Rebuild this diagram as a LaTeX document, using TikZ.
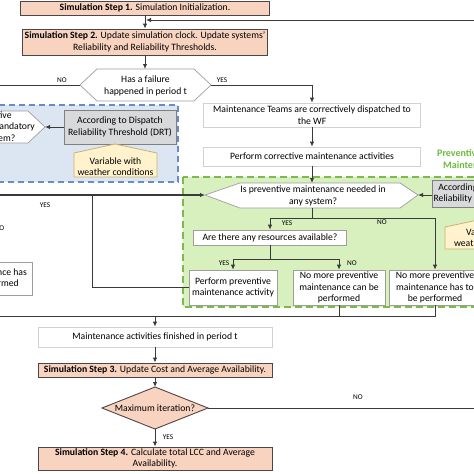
\documentclass[tikz,border=0pt]{standalone}
\usepackage{fontspec}
\setmainfont{Carlito}
\usetikzlibrary{arrows.meta}
\definecolor{peach}{HTML}{F8D3C0}
\definecolor{stepline}{HTML}{4D4545}
\definecolor{grayfill}{HTML}{D7D9DA}
\definecolor{yellowfill}{HTML}{FFF2CC}
\definecolor{yellowline}{HTML}{C8B273}
\definecolor{bluefill}{HTML}{DCE6F3}
\definecolor{blueline}{HTML}{6A8CC0}
\definecolor{greenfill}{HTML}{D8F0BE}
\definecolor{greenline}{HTML}{7DBA4E}
\definecolor{greentext}{HTML}{6DBA3F}
\definecolor{linec}{HTML}{3A3A3A}
\tikzset{
  stepbox/.style={draw=stepline, fill=peach, line width=0.9pt, inner sep=1pt, align=center},
  plainbox/.style={draw=black!18, fill=white, line width=0.7pt, inner sep=1pt, align=center},
  whitebox/.style={draw=black!38, fill=white, line width=0.7pt, inner sep=1pt, align=center},
  graybox/.style={draw=black!50, fill=grayfill, line width=0.8pt, inner sep=1pt, align=center},
  txt/.style={inner sep=0pt, align=center},
  hexshape/.style={draw=black!38, fill=white, line width=0.7pt},
  yshape/.style={draw=yellowline, fill=yellowfill, line width=0.8pt},
  lbl/.style={inner sep=0pt, font=\fontsize{7.3}{8}\selectfont},
  flow/.style={draw=linec, line width=0.9pt},
  arr/.style={flow, -{Latex[length=5pt,width=4.5pt]}},
  blueregion/.style={draw=blueline, fill=bluefill, line width=1.2pt, dash pattern=on 6pt off 4pt},
  greenregion/.style={draw=greenline, fill=greenfill, line width=1.3pt, dash pattern=on 7pt off 4pt},
}
\begin{document}
\begin{tikzpicture}[x=1pt, y=-1pt, font=\fontsize{9.7}{11.5}\selectfont]
\useasboundingbox (0,0) rectangle (474,474);
\clip (0,0) rectangle (474,474);

% ---- top steps
\node[stepbox, minimum width=249pt, minimum height=14pt] (s1) at (145,8) {\textbf{Simulation Step 1.} Simulation Initialization.};
\node[stepbox, minimum width=245pt, minimum height=26pt] (s2) at (145,42) {\textbf{Simulation Step 2.} Update simulation clock. Update systems'\\Reliability and Reliability Thresholds.};
\draw[arr] (s1.south) -- (s2.north);

% ---- failure hexagon
\filldraw[hexshape] (80,85) -- (97,69) -- (194,69) -- (211,85) -- (194,101) -- (97,101) -- cycle;
\coordinate (h1w) at (80,85);
\coordinate (h1e) at (211,85);
\coordinate (h1n) at (145,69);
\node[txt] (h1) at (145.5,86) {Has a failure\\happened in period t};
\draw[arr] (s2.south) -- (h1n);
\node[lbl] (h1no) at (62,80) {NO};
\node[lbl] (h1yes) at (222,80) {YES};
\coordinate (leftout1) at (-5,85);
\draw[flow] (h1w) -- (leftout1);

% ---- blue region
\filldraw[blueregion] (-5,105) rectangle (178,182);
\filldraw[hexshape] (-70,127) -- (-53,111) -- (28,111) -- (45,127) -- (28,143) -- (-53,143) -- cycle;
\coordinate (bhe) at (45,127);
\node[txt] (bh) at (-13.5,127) {Is preventive\\maintenance mandatory\\in any system?};
\node[graybox, minimum width=112pt, minimum height=34pt] (drt) at (120,127) {According to Dispatch\\Reliability Threshold (DRT)};
\draw[arr] (drt.west) -- (bhe);
\filldraw[yshape] (74,177) -- (74,153) -- (115,144) -- (157,153) -- (157,177) -- cycle;
\node[txt] (y1) at (115.5,166.5) {Variable with\\weather conditions};

% ---- corrective branch
\node[plainbox, minimum width=217pt, minimum height=24pt] (mt) at (312,115) {Maintenance Teams are correctively dispatched to\\the WF};
\draw[arr] (h1e) -| (mt.north);
\node[plainbox, minimum width=217pt, minimum height=19pt] (pc) at (312,156.5) {Perform corrective maintenance activities};
\draw[arr] (mt.south) -- (pc.north);

% ---- green region
\filldraw[greenregion] (183,177) rectangle (490,307);
\node[inner sep=0pt, anchor=north west, align=left, text=greentext, font=\fontsize{10}{12}\selectfont\bfseries] (ptitle) at (437,149) {Preventive\\\hspace*{6pt}Maintenance};

\filldraw[hexshape] (205,195) -- (240,183) -- (400,183) -- (418,195) -- (400,208) -- (240,208) -- cycle;
\coordinate (ghw) at (205,195);
\coordinate (ghe) at (418,195);
\coordinate (ghn) at (312,183);
\coordinate (ghs) at (312,208);
\node[txt] (gh) at (313,196) {Is preventive maintenance needed in\\any system?};
\draw[arr] (pc.south) -- (ghn);

\node[graybox, minimum width=106pt, minimum height=27pt] (prt) at (485,193.5) {According to Preventive\\Reliability Threshold (PRT)};
\draw[arr] (prt.west |- ghe) -- (ghe);
\filldraw[yshape] (445,249) -- (445,227) -- (492,217) -- (539,227) -- (539,249) -- cycle;
\node[txt] (y2) at (492,237.5) {Variable with\\weather conditions};

\coordinate (gsplit) at (312,218);
\node[whitebox, minimum width=153pt, minimum height=15pt] (res) at (270,237.5) {Are there any resources available?};
\node[whitebox, minimum width=88pt, minimum height=35pt] (b1) at (233,287.5) {Perform preventive\\maintenance activity};
\node[whitebox, minimum width=92pt, minimum height=35pt] (b2) at (339,287.5) {No more preventive\\maintenance can be\\performed};
\node[whitebox, minimum width=92pt, minimum height=35pt] (b3) at (435,287.5) {No more preventive\\maintenance has to\\be performed};
\draw[flow] (ghs) -- (gsplit);
\draw[arr] (gsplit) -| (res.north);
\draw[arr] (gsplit) -| (b3.north);
\coordinate (rsplit) at (270,259);
\draw[flow] (res.south) -- (rsplit);
\draw[arr] (rsplit) -| (b1.north);
\draw[arr] (rsplit) -| (b2.north);
\node[lbl] (gyes) at (287,223) {YES};
\node[lbl] (gno) at (382,222) {NO};
\node[lbl] (ryes) at (224,263) {YES};
\node[lbl] (rno) at (352,263) {NO};

% ---- left incoming lines
\coordinate (leftin) at (-5,195);
\coordinate (jn) at (92,195);
\draw[arr, line width=1.3pt] (leftin) -- (ghw);
\draw[flow] (jn) |- (b1.west);
\node[lbl] (lyes) at (45,205) {YES};
\node[lbl] (lno) at (-0.5,228) {NO};
\node[whitebox, minimum width=91pt, minimum height=33pt] (lb) at (-13.4,278.5) {No maintenance has\\been performed};

% ---- merge
\coordinate (leftout2) at (-5,316);
\node[plainbox, minimum width=234pt, minimum height=20pt] (fin) at (155,337) {Maintenance activities finished in period t};
\draw[flow] (b3.south) |- (leftout2);
\draw[flow] (b2.south) -- (b2.south |- leftout2);
\draw[arr] (fin.north |- leftout2) -- (fin.north);

% ---- bottom steps
\node[stepbox, minimum width=234pt, minimum height=14pt] (s3) at (155,370) {\textbf{Simulation Step 3.} Update Cost and Average Availability.};
\draw[arr] (fin.south) -- (s3.north);
\filldraw[draw=stepline, fill=peach, line width=0.9pt] (102,408) -- (155,387) -- (208,408) -- (155,429) -- cycle;
\coordinate (dn) at (155,387);
\coordinate (ds) at (155,429);
\coordinate (de) at (208,408);
\node[txt] (dm) at (155,408) {Maximum iteration?};
\draw[arr] (s3.south) -- (dn);
\node[stepbox, minimum width=234pt, minimum height=23pt] (s4) at (155,458.5) {\textbf{Simulation Step 4.} Calculate total LCC and Average\\Availability.};
\draw[arr] (ds) -- (s4.north);
\node[lbl] (dyes) at (168,437) {YES};
\node[lbl] (dno) at (358,397) {NO};
\coordinate (r1) at (490,408);
\coordinate (r2) at (490,20);
\coordinate (rt) at (146,20);
\draw[arr] (de) -- (r1) -- (r2) -- (rt);
\end{tikzpicture}
\end{document}
